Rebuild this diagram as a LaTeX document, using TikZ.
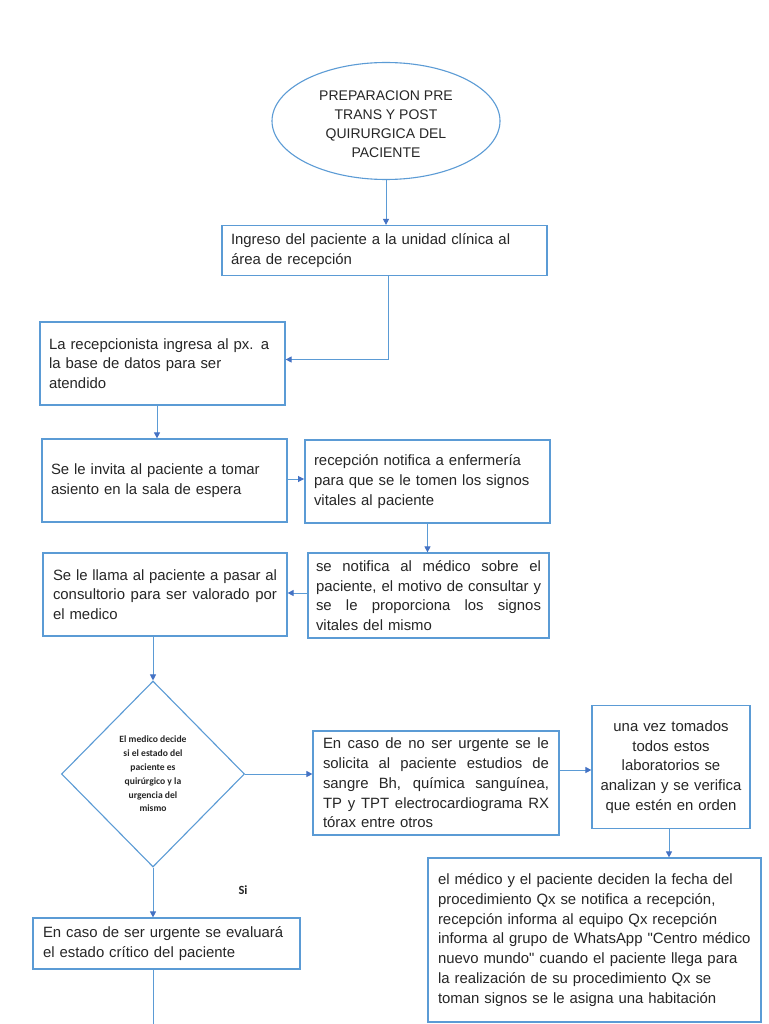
\documentclass[tikz,border=0pt]{standalone}
\usepackage{fontspec}
\setmainfont{Liberation Sans}[Ligatures=TeXOff]
\newfontfamily\diafont{Carlito}
\usetikzlibrary{shapes.geometric,arrows.meta}
\definecolor{lineblue}{HTML}{5B9BD5}
\definecolor{tipblue}{HTML}{4472C4}
\definecolor{txt}{HTML}{262626}
\newcommand\jl[2]{\leavevmode\hbox to #1{\spaceskip=0.278em plus 1fil\relax #2}}
\begin{document}
\begin{tikzpicture}[x=1pt,y=-1pt,
  box/.style={draw=lineblue, line width=1.2pt, rectangle, inner xsep=9pt, inner ysep=0pt,
    align=left, text=txt, font=\fontsize{14.9}{19.8}\selectfont},
  arr/.style={draw=lineblue, line width=0.9pt, -{Triangle[length=6pt,width=6pt,color=tipblue]}},
  plain/.style={draw=lineblue, line width=0.9pt}
]
\useasboundingbox (0,0) rectangle (768,1024);
\fill[white] (0,0) rectangle (768,1024);

\node[draw=lineblue, line width=1.1pt, ellipse, minimum width=228pt, minimum height=117pt, inner sep=0pt,
  align=center, text=txt, font=\fontsize{14}{19}\selectfont] (ell) at (386,121)
  {\rule{0pt}{16pt}PREPARACION PRE\\TRANS Y POST\\QUIRURGICA DEL\\PACIENTE};

\node[box, minimum width=325pt, minimum height=50pt, text width=307pt] (b1) at (384.5,250.5)
  {Ingreso del paciente a la unidad clínica al\\área de recepción};

\node[box, minimum width=245pt, minimum height=83pt, text width=227pt] (b2) at (162.5,363.5)
  {La recepcionista ingresa al px. a\\la base de datos para ser\\atendido};

\node[box, minimum width=245pt, minimum height=83pt, text width=227pt] (b3) at (164.5,480.5)
  {Se le invita al paciente a tomar\\asiento en la sala de espera};

\node[box, line width=1.9pt, minimum width=245pt, minimum height=83pt, text width=227pt] (b4) at (427.5,481.5)
  {recepción notifica a enfermería\\para que se le tomen los signos\\vitales al paciente};

\node[box, minimum width=241pt, minimum height=85pt, inner xsep=8pt, text width=225pt] (b5) at (428.5,595.5)
  {\jl{225pt}{se notifica al médico sobre el}\\\jl{225pt}{paciente, el motivo de consultar y}\\\jl{225pt}{se le proporciona los signos}\\vitales del mismo};

\node[box, minimum width=244pt, minimum height=83pt, inner xsep=10pt, text width=224pt] (b6) at (165,594.5)
  {\jl{224pt}{Se le llama al paciente a pasar al}\\\jl{224pt}{consultorio para ser valorado por}\\el medico};

\node[draw=lineblue, line width=1.1pt, diamond, minimum width=183pt, minimum height=186pt, inner sep=0pt,
  align=center, text=txt, font=\diafont\bfseries\fontsize{9.6}{13.8}\selectfont] (dia) at (153,774)
  {El medico decide\\si el estado del\\paciente es\\quirúrgico y la\\urgencia del\\mismo};

\node[box, minimum width=246pt, minimum height=104pt, inner xsep=10pt, text width=226pt] (b7) at (436,783)
  {\jl{226pt}{En caso de no ser urgente se le}\\\jl{226pt}{solicita al paciente estudios de}\\\jl{226pt}{sangre Bh, química sanguínea,}\\\jl{226pt}{TP y TPT electrocardiograma RX}\\tórax entre otros};

\node[box, minimum width=158pt, minimum height=123pt, inner xsep=4pt, text width=150pt, align=center] (b8) at (671,767)
  {una vez tomados\\todos estos\\laboratorios se\\analizan y se verifica\\que estén en orden};

\node[box, minimum width=333pt, minimum height=164pt, inner xsep=10pt, text width=313pt] (b9) at (594.5,940)
  {el médico y el paciente deciden la fecha del\\procedimiento Qx se notifica a recepción,\\recepción informa al equipo Qx recepción\\informa al grupo de WhatsApp "Centro médico\\nuevo mundo" cuando el paciente llega para\\la realización de su procedimiento Qx se\\toman signos se le asigna una habitación};

\node[box, minimum width=267pt, minimum height=51pt, inner xsep=10pt, text width=247pt] (b10) at (166.5,943.5)
  {En caso de ser urgente se evaluará\\el estado crítico del paciente};

\node[text=txt, font=\diafont\bfseries\fontsize{12.5}{14}\selectfont, inner sep=0pt] (si) at (243,890) {Si};

\coordinate (fin) at (153,1024);

% connectors
\draw[arr] (ell.south) -- (ell.south |- b1.north);
\draw[arr] ([xshift=3.5pt]b1.south) |- ([yshift=4pt]b2.east);
\draw[arr] ([xshift=-5.5pt]b2.south) -- ([xshift=-5.5pt]b2.south |- b3.north);
\draw[arr] ([yshift=1.5pt]b3.east) -- ([yshift=1.5pt]b3.east -| b4.west);
\draw[arr] (b4.south) -- (b4.south |- b5.north);
\draw[arr] ([yshift=2.5pt]b5.west) -- ([yshift=2.5pt]b5.west -| b6.east);
\draw[arr] (dia.north |- b6.south) -- (dia.north);
\draw[arr] (dia.east) -- (dia.east -| b7.west);
\draw[arr] ([yshift=13pt]b7.east) -- ([yshift=13pt]b7.east -| b8.west);
\draw[arr] ([xshift=-2pt]b8.south) -- ([xshift=-2pt]b8.south |- b9.north);
\draw[arr] (dia.south) -- (dia.south |- b10.north);
\draw[plain] (dia.south |- b10.south) -- (fin);
\end{tikzpicture}
\end{document}
